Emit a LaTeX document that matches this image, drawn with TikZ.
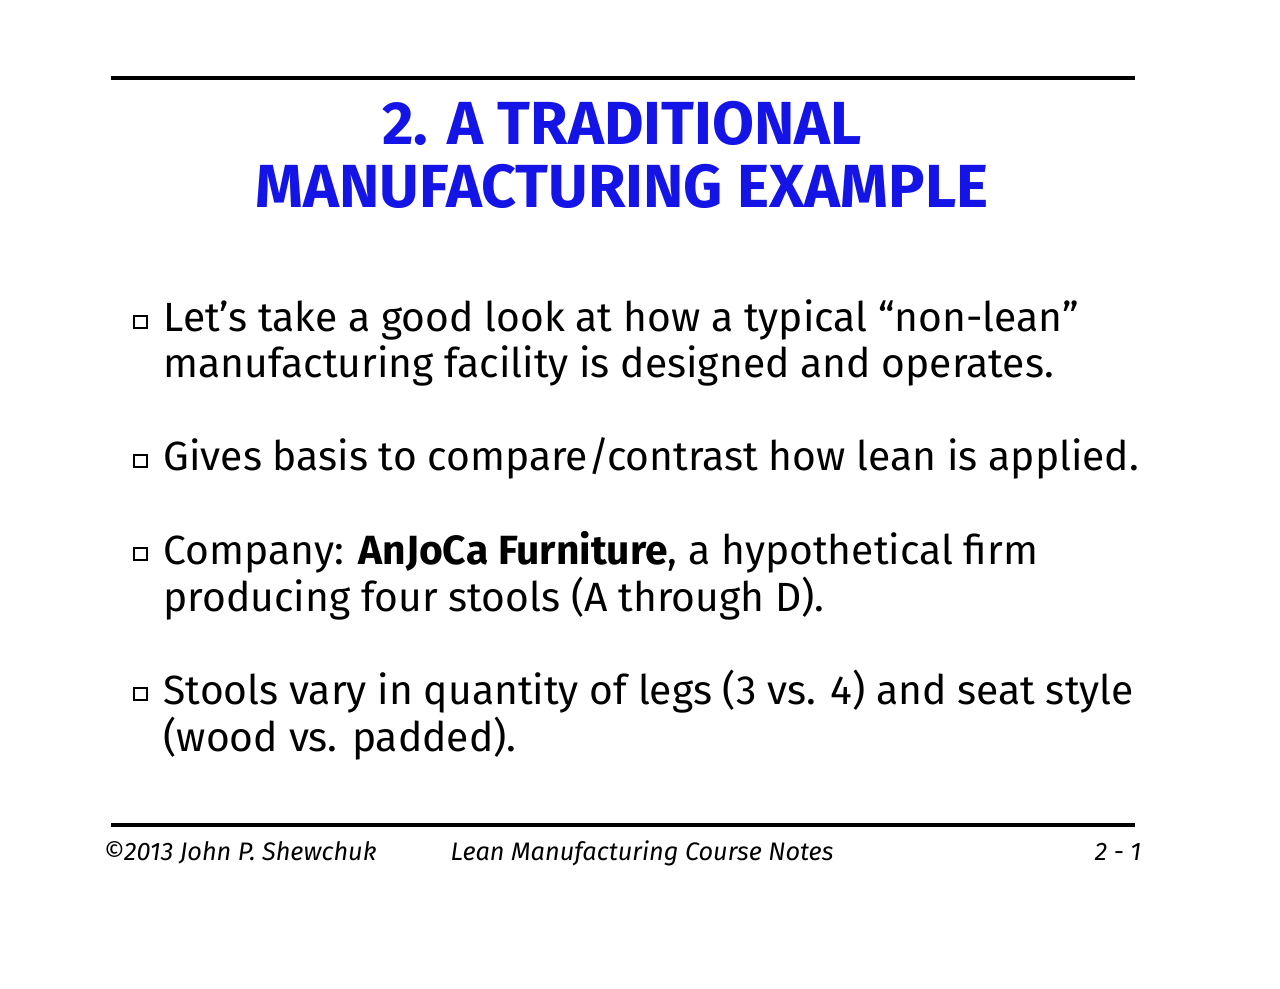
\documentclass[tikz,border=0pt]{standalone}
\usepackage{fontspec}
\setmainfont{Fira Sans}
\definecolor{titleblue}{RGB}{20,20,230}
\begin{document}
\begin{tikzpicture}[x=0.01cm,y=-0.01cm,
  body/.style={anchor=base west,inner sep=0,font=\fontsize{11.6}{14}\selectfont},
  title/.style={anchor=base,inner sep=0,text=titleblue,font=\fontsize{17.3}{20}\selectfont\bfseries},
  foot/.style={anchor=base west,inner sep=0,font=\fontsize{7.2}{9}\selectfont\itshape},
  rule/.style={line width=1pt},
  bullet/.style={line width=0.7pt}]
\useasboundingbox (0,0) rectangle (1280,989);
\draw[rule] (111,78) -- (1135,78);
\draw[rule] (111,825) -- (1135,825);
\node[title] (t1) at (622,145) {2. A TRADITIONAL};
\node[title] (t2) at (622,208) {MANUFACTURING EXAMPLE};
\foreach \y in {330,469,562,702} \draw[bullet] (134,{\y-14}) rectangle (147,{\y-2});
\node[body] (b1a) at (163,332) {Let’s take a good look at how a typical “non-lean”};
\node[body] (b1b) at (163,378) {manufacturing facility is designed and operates.};
\node[body] (b2) at (163,471) {Gives basis to compare/contrast how lean is applied.};
\node[body] (b3a) at (163,564) {Company: \textbf{AnJoCa Furniture}, a hypothetical firm};
\node[body] (b3b) at (163,611) {producing four stools (A through D).};
\node[body] (b4a) at (163,704) {Stools vary in quantity of legs (3 vs. 4) and seat style};
\node[body] (b4b) at (163,751) {(wood vs. padded).};
\node[foot] (f1) at (103,860) {©2013 John P. Shewchuk};
\node[foot] (f2) at (450,860) {Lean Manufacturing Course Notes};
\node[foot,anchor=base east] (f3) at (1142,860) {2 - 1};
\end{tikzpicture}
\end{document}
